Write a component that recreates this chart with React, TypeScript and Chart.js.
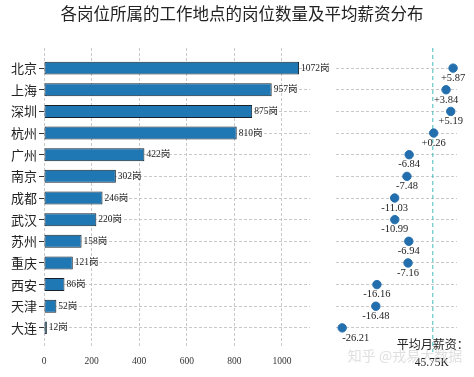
import React, { useEffect, useRef } from "react";
import { Chart, registerables } from "chart.js";

Chart.register(...registerables);

const titleText = "各岗位所属的工作地点的岗位数量及平均薪资分布";
const cities = ["北京", "上海", "深圳", "杭州", "广州", "南京", "成都", "武汉", "苏州", "重庆", "西安", "天津", "大连"];
const jobCounts = [1072, 957, 875, 810, 422, 302, 246, 220, 158, 121, 86, 52, 12];
const salaryDiff = [5.87, 3.84, 5.19, 0.26, -6.84, -7.48, -11.03, -10.99, -6.94, -7.16, -16.16, -16.48, -26.21];
const xTicks = [0, 200, 400, 600, 800, 1000];
const avgLabel = "平均月薪资：";
const avgValue = "45.75K";
const watermark = "知乎 @戎易大数据";

const W = 474;
const H = 377;
const TOP = 48;
const BOTTOM_H = 29;
const Y_MIN = -0.93;
const Y_MAX = cities.length - 1 + 0.93;
const GRID = "#c9c9c9";
const SERIF = "'Liberation Serif', 'Noto Sans CJK SC', serif";
const CJK = "'Noto Sans CJK SC', sans-serif";

export default function App() {
  const leftRef = useRef<HTMLCanvasElement>(null);
  const rightRef = useRef<HTMLCanvasElement>(null);

  useEffect(() => {
    const leftPlugin = {
      id: "leftLabels",
      afterDatasetsDraw(chart: any) {
        const ctx = chart.ctx;
        const meta = chart.getDatasetMeta(0);
        ctx.save();
        ctx.fillStyle = "#222";
        ctx.font = `9.5px ${SERIF}`;
        ctx.textAlign = "left";
        ctx.textBaseline = "middle";
        meta.data.forEach((el: any, i: number) => {
          ctx.fillText(`${jobCounts[i]}岗`, el.x + 2, el.y);
        });
        ctx.fillStyle = "#222";
        ctx.font = `16.5px ${CJK}`;
        ctx.textAlign = "center";
        ctx.fillText(titleText, 242, 14);
        ctx.restore();
      },
    };

    const left = new Chart(leftRef.current!, {
      type: "bar",
      data: {
        datasets: [
          {
            data: jobCounts.map((v, i) => ({ x: v, y: i })),
            backgroundColor: "#1f77b4",
            borderColor: "#17212b",
            borderWidth: 1,
            borderSkipped: false,
            barPercentage: 0.6,
            categoryPercentage: 1,
          } as any,
        ],
      },
      options: {
        indexAxis: "y",
        responsive: false,
        animation: false,
        layout: { padding: { left: 0, right: 164, top: TOP, bottom: 0 } },
        plugins: { legend: { display: false }, tooltip: { enabled: false }, title: { display: false } },
        scales: {
          x: {
            type: "linear",
            min: 0,
            max: 1118,
            offset: false,
            afterBuildTicks: (s: any) => {
              s.ticks = xTicks.map((v) => ({ value: v }));
            },
            afterFit: (s: any) => {
              s.height = BOTTOM_H;
            },
            border: { display: false, dash: [3, 2] },
            grid: { color: GRID, drawTicks: false, lineWidth: 1, offset: false } as any,
            ticks: {
              color: "#333",
              font: { family: SERIF, size: 9.5 },
              padding: 8,
              callback: (v: any) => String(v),
            },
          },
          y: {
            type: "linear",
            reverse: true,
            min: Y_MIN,
            max: Y_MAX,
            offset: false,
            afterBuildTicks: (s: any) => {
              s.ticks = cities.map((_, i) => ({ value: i }));
            },
            afterFit: (s: any) => {
              s.width = 44;
            },
            border: { display: false, dash: [3, 2] },
            grid: {
              color: GRID,
              offset: false,
              drawTicks: true,
              tickLength: 5,
              tickColor: "#333",
              tickBorderDash: [],
            } as any,
            ticks: {
              color: "#222",
              padding: 2,
              font: { family: CJK, size: 13 },
              callback: (v: any) => cities[v as number] ?? "",
            },
          },
        },
      } as any,
      plugins: [leftPlugin],
    });

    const rightPlugin = {
      id: "rightLabels",
      beforeDatasetsDraw(chart: any) {
        const ctx = chart.ctx;
        const x0 = chart.scales.x.getPixelForValue(0);
        ctx.save();
        ctx.strokeStyle = "#45bdbd";
        ctx.lineWidth = 1;
        ctx.setLineDash([4, 3]);
        ctx.beginPath();
        ctx.moveTo(x0, chart.chartArea.top);
        ctx.lineTo(x0, chart.chartArea.bottom + 4);
        ctx.stroke();
        ctx.restore();
      },
      afterDatasetsDraw(chart: any) {
        const ctx = chart.ctx;
        const area = chart.chartArea;
        const meta = chart.getDatasetMeta(0);
        const x0 = chart.scales.x.getPixelForValue(0);
        ctx.save();
        ctx.fillStyle = "#222";
        ctx.font = `10.5px ${SERIF}`;
        ctx.textBaseline = "middle";
        meta.data.forEach((el: any, i: number) => {
          const v = salaryDiff[i];
          const t = (v > 0 ? "+" : "") + v.toFixed(2);
          const w = ctx.measureText(t).width;
          if (el.x - w / 2 < area.left) {
            ctx.textAlign = "left";
            ctx.fillText(t, el.x, el.y + 10);
          } else {
            ctx.textAlign = "center";
            ctx.fillText(t, el.x, el.y + 10);
          }
        });
        ctx.textAlign = "center";
        ctx.font = `12px ${CJK}`;
        ctx.fillText(avgLabel, x0, 344);
        ctx.font = `11.5px ${SERIF}`;
        ctx.fillText(avgValue, x0 - 1, 363);
        ctx.font = `14px ${CJK}`;
        ctx.fillStyle = "rgba(185,185,185,0.45)";
        ctx.fillText(watermark, 405, 356);
        ctx.restore();
      },
    };

    const right = new Chart(rightRef.current!, {
      type: "scatter",
      data: {
        datasets: [
          {
            data: salaryDiff.map((v, i) => ({ x: v, y: i })),
            backgroundColor: "#236fae",
            borderColor: "#236fae",
            pointRadius: 4.2,
            clip: false,
          } as any,
        ],
      },
      options: {
        responsive: false,
        animation: false,
        layout: { padding: { left: 336, right: 17, top: TOP, bottom: BOTTOM_H } },
        plugins: { legend: { display: false }, tooltip: { enabled: false }, title: { display: false } },
        scales: {
          x: { type: "linear", min: -28, max: 7, display: false },
          y: {
            type: "linear",
            reverse: true,
            min: Y_MIN,
            max: Y_MAX,
            afterBuildTicks: (s: any) => {
              s.ticks = cities.map((_, i) => ({ value: i }));
            },
            afterFit: (s: any) => {
              s.width = 0;
            },
            border: { display: false, dash: [3, 2] },
            grid: { color: GRID, drawTicks: false } as any,
            ticks: { display: false },
          },
        },
      } as any,
      plugins: [rightPlugin],
    });

    return () => {
      left.destroy();
      right.destroy();
    };
  }, []);

  return (
    <div style={{ position: "fixed", left: 0, top: 0, width: W, height: H, background: "#fff" }}>
      <canvas ref={leftRef} width={W} height={H} style={{ position: "absolute", left: 0, top: 0 }} />
      <canvas ref={rightRef} width={W} height={H} style={{ position: "absolute", left: 0, top: 0 }} />
    </div>
  );
}
